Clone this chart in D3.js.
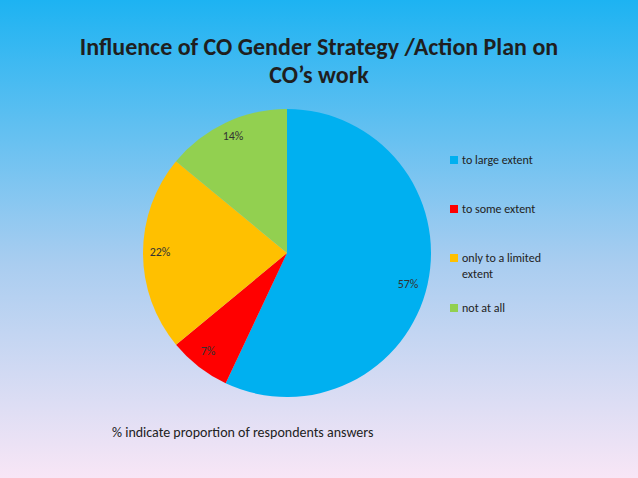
<!DOCTYPE html>
<html><head><meta charset="utf-8">
<script src="https://cdn.jsdelivr.net/npm/d3@7"></script>
<style>body{margin:0}svg{display:block}</style>
</head><body>
<svg id="c" width="638" height="478"></svg>
<script>
var categories = ['to large extent', 'to some extent', 'only to a limited extent', 'not at all'];
var values = [57, 7, 22, 14];
var colors = ['#00b0f0', '#ff0000', '#ffc000', '#92d050'];
var labelPos = [[408, 288], [208, 355], [160, 256], [233, 140]];

var svg = d3.select('#c');
var font = "Carlito, 'Open Sans', 'Liberation Sans', sans-serif";

var grad = svg.append('defs').append('linearGradient')
  .attr('id', 'bg').attr('x1', 0).attr('y1', 0).attr('x2', 0).attr('y2', 1);
grad.append('stop').attr('offset', '0%').attr('stop-color', '#1db3f2');
grad.append('stop').attr('offset', '55%').attr('stop-color', '#a9cdf0');
grad.append('stop').attr('offset', '100%').attr('stop-color', '#f8e6f6');
svg.append('rect').attr('width', 638).attr('height', 478).attr('fill', 'url(#bg)');

svg.append('text').attr('x', 319).attr('y', 55).attr('text-anchor', 'middle')
  .attr('font-family', font).attr('font-weight', 'bold').attr('font-size', 24).attr('fill', '#1f1f1f')
  .text('Influence of CO Gender Strategy /Action Plan on');
svg.append('text').attr('x', 319).attr('y', 83).attr('text-anchor', 'middle')
  .attr('font-family', font).attr('font-weight', 'bold').attr('font-size', 24).attr('fill', '#1f1f1f')
  .text('CO’s work');

var pie = d3.pie().sort(null)(values);
var arc = d3.arc().innerRadius(0).outerRadius(144);
var g = svg.append('g').attr('transform', 'translate(287,253)');
g.selectAll('path').data(pie).enter().append('path')
  .attr('d', arc).attr('fill', function(d, i) { return colors[i]; });

svg.selectAll('.lbl').data(values).enter().append('text')
  .attr('x', function(d, i) { return labelPos[i][0]; })
  .attr('y', function(d, i) { return labelPos[i][1]; })
  .attr('text-anchor', 'middle').attr('font-family', font).attr('font-size', 12)
  .attr('fill', '#333').text(function(d) { return d + '%'; });

var ly = [164, 213, 262, 312];
var leg = svg.selectAll('.leg').data(categories).enter().append('g')
  .attr('transform', function(d, i) { return 'translate(450,' + ly[i] + ')'; });
leg.append('rect').attr('x', 0).attr('y', -8).attr('width', 8).attr('height', 8)
  .attr('fill', function(d, i) { return colors[i]; });
leg.each(function(d, i) {
  var t = d3.select(this).append('text').attr('x', 12).attr('y', 0)
    .attr('font-family', font).attr('font-size', 12).attr('fill', '#222');
  if (i === 2) {
    t.append('tspan').attr('x', 12).text('only to a limited');
    t.append('tspan').attr('x', 12).attr('dy', 16).text('extent');
  } else t.text(d);
});

svg.append('text').attr('x', 112).attr('y', 437).attr('font-family', font)
  .attr('font-size', 14).attr('fill', '#222').text('% indicate proportion of respondents answers');
</script>
</body></html>
